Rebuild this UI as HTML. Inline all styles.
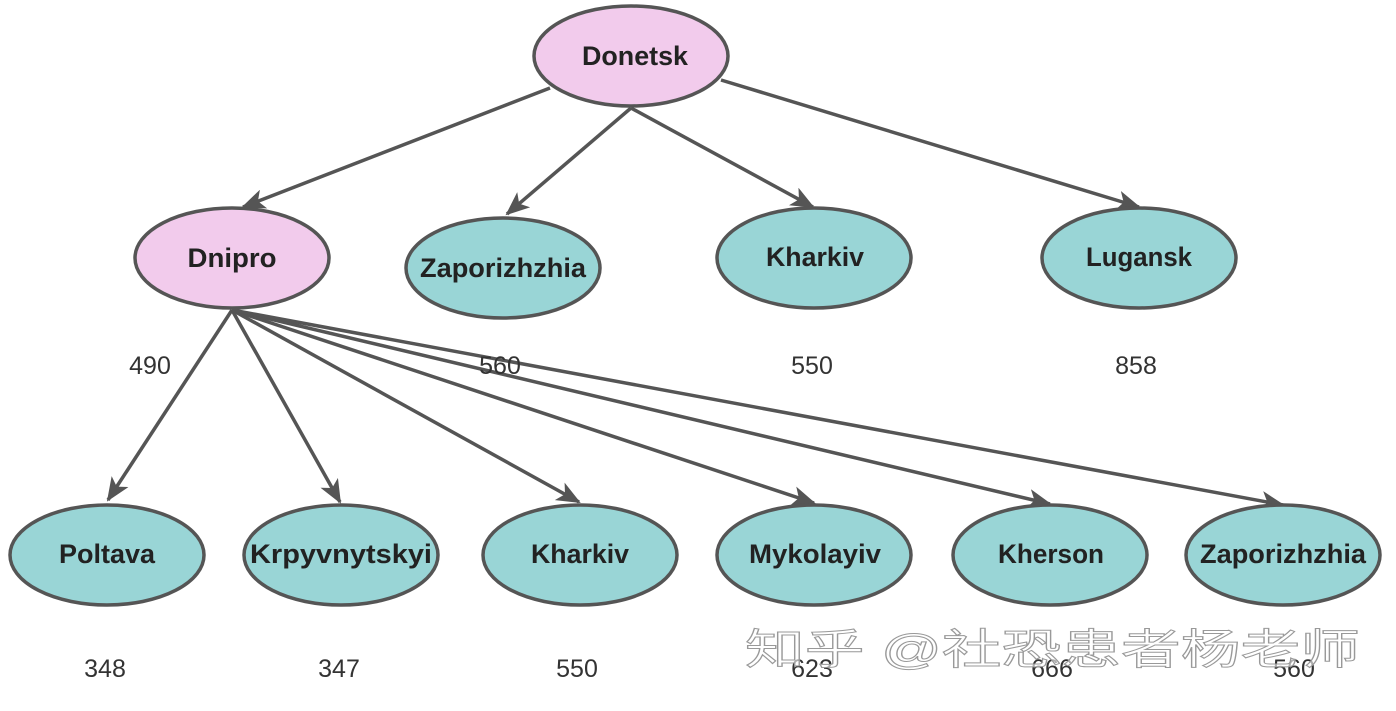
<!DOCTYPE html>
<html><head><meta charset="utf-8"><style>body{margin:0;background:#fff}</style></head><body>
<svg width="1396" height="706" xmlns="http://www.w3.org/2000/svg">
<defs>
<marker id="b" markerWidth="24" markerHeight="20" refX="22" refY="10" orient="auto" markerUnits="userSpaceOnUse"><path d="M0,0 L24,10 L0,20 L6,10z" fill="#555"/></marker></defs>
<g stroke="#555" stroke-width="3.5" fill="none" marker-end="url(#b)">
<line x1="550" y1="88" x2="243" y2="207"/>
<line x1="631" y1="108" x2="507" y2="214"/>
<line x1="631" y1="108" x2="813" y2="207"/>
<line x1="721" y1="80" x2="1139" y2="207"/>
<line x1="232" y1="310" x2="108" y2="500"/>
<line x1="232" y1="310" x2="340" y2="502"/>
<line x1="232" y1="310" x2="579" y2="502"/>
<line x1="232" y1="310" x2="814" y2="503"/>
<line x1="232" y1="310" x2="1050" y2="504"/>
<line x1="232" y1="310" x2="1283" y2="505"/>
</g>
<g stroke="#555" stroke-width="3.5">
<ellipse cx="631" cy="56" rx="97" ry="50" fill="#f2cbec"/>
<ellipse cx="232" cy="258" rx="97" ry="50" fill="#f2cbec"/>
<ellipse cx="503" cy="268" rx="97" ry="50" fill="#99d5d6"/>
<ellipse cx="814" cy="258" rx="97" ry="50" fill="#99d5d6"/>
<ellipse cx="1139" cy="258" rx="97" ry="50" fill="#99d5d6"/>
<ellipse cx="107" cy="555" rx="97" ry="50" fill="#99d5d6"/>
<ellipse cx="341" cy="555" rx="97" ry="50" fill="#99d5d6"/>
<ellipse cx="580" cy="555" rx="97" ry="50" fill="#99d5d6"/>
<ellipse cx="814" cy="555" rx="97" ry="50" fill="#99d5d6"/>
<ellipse cx="1050" cy="555" rx="97" ry="50" fill="#99d5d6"/>
<ellipse cx="1283" cy="555" rx="97" ry="50" fill="#99d5d6"/>
</g>
<g font-family="Liberation Sans, sans-serif" font-weight="bold" font-size="27" fill="#222" text-anchor="middle">
<text x="635" y="65" textLength="106" lengthAdjust="spacingAndGlyphs">Donetsk</text>
<text x="232" y="267" textLength="89" lengthAdjust="spacingAndGlyphs">Dnipro</text>
<text x="503" y="277" textLength="166" lengthAdjust="spacingAndGlyphs">Zaporizhzhia</text>
<text x="815" y="266" textLength="98" lengthAdjust="spacingAndGlyphs">Kharkiv</text>
<text x="1139" y="266" textLength="106" lengthAdjust="spacingAndGlyphs">Lugansk</text>
<text x="107" y="563" textLength="96" lengthAdjust="spacingAndGlyphs">Poltava</text>
<text x="341" y="563" textLength="182" lengthAdjust="spacingAndGlyphs">Krpyvnytskyi</text>
<text x="580" y="563" textLength="98" lengthAdjust="spacingAndGlyphs">Kharkiv</text>
<text x="815" y="563" textLength="132" lengthAdjust="spacingAndGlyphs">Mykolayiv</text>
<text x="1051" y="563" textLength="106" lengthAdjust="spacingAndGlyphs">Kherson</text>
<text x="1283" y="563" textLength="166" lengthAdjust="spacingAndGlyphs">Zaporizhzhia</text>
</g>
<g font-family="Liberation Sans, sans-serif" font-size="25" fill="#333" text-anchor="middle">
<text x="150" y="374">490</text><text x="500" y="374">560</text><text x="812" y="374">550</text><text x="1136" y="374">858</text>
<text x="105" y="677">348</text><text x="339" y="677">347</text><text x="577" y="677">550</text><text x="812" y="677">623</text><text x="1052" y="677">666</text><text x="1294" y="677">560</text>
</g>
<text x="745" y="664" font-family="Liberation Sans, Noto Sans CJK SC, sans-serif" font-size="42" textLength="615" lengthAdjust="spacingAndGlyphs" fill="#fff" fill-opacity="0.6" stroke="#999" stroke-width="1">知乎 @社恐患者杨老师</text>
</svg>
</body></html>
